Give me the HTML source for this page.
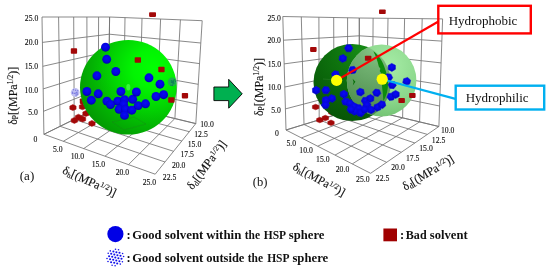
<!DOCTYPE html>
<html><head><meta charset="utf-8"><title>HSP spheres</title>
<style>html,body{margin:0;padding:0;background:#fff}svg{display:block}</style></head>
<body>
<svg width="550" height="270" viewBox="0 0 550 270">
<defs>
<radialGradient id="sa" cx="0.72" cy="0.32" r="0.92" fx="0.76" fy="0.3">
<stop offset="0" stop-color="#02ff02"/><stop offset="0.22" stop-color="#02f402"/><stop offset="0.45" stop-color="#02d402"/><stop offset="0.65" stop-color="#03b403"/><stop offset="0.85" stop-color="#039a03"/><stop offset="1" stop-color="#038403"/>
</radialGradient>
<radialGradient id="sd" cx="0.6" cy="0.08" r="0.95">
<stop offset="0" stop-color="#168c16"/><stop offset="0.3" stop-color="#0f760f"/><stop offset="0.65" stop-color="#0a640a"/><stop offset="1" stop-color="#075407"/>
</radialGradient>
<radialGradient id="sl" cx="0.6" cy="0.3" r="0.85">
<stop offset="0" stop-color="#a6eca6"/><stop offset="0.55" stop-color="#8cd88c"/><stop offset="1" stop-color="#66b866"/>
</radialGradient>
<radialGradient id="so" cx="0.45" cy="0.0" r="1.05">
<stop offset="0" stop-color="#8ccc8c"/><stop offset="0.3" stop-color="#72b272"/><stop offset="0.65" stop-color="#5c9c5c"/><stop offset="1" stop-color="#478447"/>
</radialGradient>
<radialGradient id="bd" cx="0.5" cy="0.4" r="0.65">
<stop offset="0" stop-color="#0a0af6"/><stop offset="0.6" stop-color="#0404dc"/><stop offset="1" stop-color="#00009c"/>
</radialGradient>
<pattern id="dots" width="2.4" height="2.4" patternUnits="userSpaceOnUse"><circle cx="0.8" cy="0.8" r="0.62" fill="#2020e8"/></pattern>
<pattern id="dots2" width="1.8" height="1.8" patternUnits="userSpaceOnUse"><circle cx="0.6" cy="0.6" r="0.5" fill="#5a5ad8"/></pattern>
<clipPath id="ca"><ellipse cx="128.3" cy="87.3" rx="48.3" ry="47.3"/></clipPath>
<clipPath id="cd"><ellipse cx="352.2" cy="82.5" rx="38.7" ry="38.6"/></clipPath>
</defs>
<style>
.g{stroke:#747474;stroke-width:0.85;fill:none}
text{font-family:"Liberation Serif",serif;fill:#111}
.t{font-size:7.7px;text-anchor:middle;stroke:#111;stroke-width:0.12}
.ax{font-size:12px;text-anchor:middle;stroke:#111;stroke-width:0.12}
.lg{font-size:12.45px;font-weight:bold}
.r{fill:#a30808}
</style>
<rect width="550" height="270" fill="#fff"/>
<line class="g" x1="42.0" y1="17.0" x2="109.6" y2="17.0"/>
<line class="g" x1="109.6" y1="17.0" x2="202.2" y2="20.7"/>
<line class="g" x1="42.4" y1="42.4" x2="109.4" y2="34.2"/>
<line class="g" x1="109.4" y1="34.2" x2="200.8" y2="43.0"/>
<line class="g" x1="42.8" y1="66.3" x2="109.2" y2="51.3"/>
<line class="g" x1="109.2" y1="51.3" x2="199.5" y2="63.6"/>
<line class="g" x1="43.2" y1="88.9" x2="108.9" y2="68.4"/>
<line class="g" x1="108.9" y1="68.4" x2="198.2" y2="84.3"/>
<line class="g" x1="43.5" y1="111.3" x2="108.7" y2="85.5"/>
<line class="g" x1="108.7" y1="85.5" x2="197.0" y2="104.0"/>
<line class="g" x1="43.9" y1="134.3" x2="108.5" y2="102.5"/>
<line class="g" x1="108.5" y1="102.5" x2="195.8" y2="123.6"/>
<line class="g" x1="42.0" y1="17.0" x2="43.9" y2="134.3"/>
<line class="g" x1="58.6" y1="17.0" x2="60.1" y2="126.3"/>
<line class="g" x1="73.7" y1="17.0" x2="74.2" y2="119.4"/>
<line class="g" x1="86.9" y1="17.0" x2="87.0" y2="113.1"/>
<line class="g" x1="98.6" y1="17.0" x2="98.3" y2="107.5"/>
<line class="g" x1="109.6" y1="17.0" x2="108.5" y2="102.5"/>
<line class="g" x1="109.6" y1="17.0" x2="108.5" y2="102.5"/>
<line class="g" x1="125.0" y1="17.6" x2="123.6" y2="106.1"/>
<line class="g" x1="142.0" y1="18.3" x2="139.8" y2="110.1"/>
<line class="g" x1="160.6" y1="19.0" x2="156.8" y2="114.2"/>
<line class="g" x1="180.4" y1="19.8" x2="174.9" y2="118.5"/>
<line class="g" x1="202.2" y1="20.7" x2="195.8" y2="123.6"/>
<line class="g" x1="43.9" y1="134.3" x2="108.5" y2="102.5"/>
<line class="g" x1="63.3" y1="141.3" x2="123.6" y2="106.1"/>
<line class="g" x1="83.7" y1="148.6" x2="139.8" y2="110.1"/>
<line class="g" x1="105.0" y1="156.2" x2="156.8" y2="114.2"/>
<line class="g" x1="128.5" y1="164.6" x2="174.9" y2="118.5"/>
<line class="g" x1="155.2" y1="174.2" x2="195.8" y2="123.6"/>
<line class="g" x1="43.9" y1="134.3" x2="155.2" y2="174.2"/>
<line class="g" x1="60.1" y1="126.3" x2="165.0" y2="162.0"/>
<line class="g" x1="74.2" y1="119.4" x2="173.6" y2="151.3"/>
<line class="g" x1="87.0" y1="113.1" x2="181.8" y2="141.0"/>
<line class="g" x1="98.3" y1="107.5" x2="189.3" y2="131.7"/>
<line class="g" x1="108.5" y1="102.5" x2="195.8" y2="123.6"/>
<line class="g" x1="282.8" y1="16.5" x2="359.3" y2="18.0"/>
<line class="g" x1="359.3" y1="18.0" x2="442.6" y2="18.9"/>
<line class="g" x1="283.5" y1="40.2" x2="359.3" y2="35.8"/>
<line class="g" x1="359.3" y1="35.8" x2="441.8" y2="41.1"/>
<line class="g" x1="284.1" y1="63.9" x2="359.3" y2="53.8"/>
<line class="g" x1="359.3" y1="53.8" x2="441.1" y2="62.9"/>
<line class="g" x1="284.8" y1="87.0" x2="359.3" y2="71.7"/>
<line class="g" x1="359.3" y1="71.7" x2="440.3" y2="84.5"/>
<line class="g" x1="285.4" y1="108.9" x2="359.3" y2="89.6"/>
<line class="g" x1="359.3" y1="89.6" x2="439.6" y2="106.0"/>
<line class="g" x1="286.0" y1="130.0" x2="359.3" y2="107.5"/>
<line class="g" x1="359.3" y1="107.5" x2="438.9" y2="126.5"/>
<line class="g" x1="282.8" y1="16.5" x2="286.0" y2="130.0"/>
<line class="g" x1="301.3" y1="16.9" x2="304.0" y2="124.5"/>
<line class="g" x1="318.9" y1="17.2" x2="319.2" y2="119.8"/>
<line class="g" x1="333.7" y1="17.5" x2="334.0" y2="115.3"/>
<line class="g" x1="347.6" y1="17.8" x2="347.5" y2="111.1"/>
<line class="g" x1="359.3" y1="18.0" x2="359.3" y2="107.5"/>
<line class="g" x1="359.3" y1="18.0" x2="359.3" y2="107.5"/>
<line class="g" x1="373.1" y1="18.1" x2="372.5" y2="110.7"/>
<line class="g" x1="388.0" y1="18.3" x2="386.5" y2="114.0"/>
<line class="g" x1="404.6" y1="18.5" x2="402.6" y2="117.8"/>
<line class="g" x1="422.2" y1="18.7" x2="419.6" y2="121.9"/>
<line class="g" x1="442.6" y1="18.9" x2="438.9" y2="126.5"/>
<line class="g" x1="286.0" y1="130.0" x2="359.3" y2="107.5"/>
<line class="g" x1="301.4" y1="137.9" x2="372.5" y2="110.7"/>
<line class="g" x1="317.7" y1="146.2" x2="386.5" y2="114.0"/>
<line class="g" x1="335.0" y1="155.1" x2="402.6" y2="117.8"/>
<line class="g" x1="352.3" y1="163.9" x2="419.6" y2="121.9"/>
<line class="g" x1="370.6" y1="173.3" x2="438.9" y2="126.5"/>
<line class="g" x1="286.0" y1="130.0" x2="370.6" y2="173.3"/>
<line class="g" x1="304.0" y1="124.5" x2="386.6" y2="162.3"/>
<line class="g" x1="319.2" y1="119.8" x2="401.3" y2="152.3"/>
<line class="g" x1="334.0" y1="115.3" x2="414.8" y2="143.0"/>
<line class="g" x1="347.5" y1="111.1" x2="427.3" y2="134.4"/>
<line class="g" x1="359.3" y1="107.5" x2="438.9" y2="126.5"/>
<rect class="r" x="149.1" y="12.3" width="6.9" height="4.6" rx="0.8"/>
<rect class="r" x="70.8" y="48.3" width="6.3" height="5.4" rx="0.8"/>
<rect class="r" x="181.8" y="93.0" width="6.3" height="5.4" rx="0.8"/>
<polygon class="r" points="69.8,106.1 72.9,104.6 76.1,106.1 76.1,109.2 72.9,110.6 69.8,109.2" stroke="#a30808" stroke-width="0.5" stroke-linejoin="round"/>
<polygon class="r" points="79.3,105.3 82.5,103.8 85.7,105.3 85.7,108.5 82.5,109.8 79.3,108.5" stroke="#a30808" stroke-width="0.5" stroke-linejoin="round"/>
<rect class="r" x="79.8" y="98.5" width="6.3" height="5.4" rx="0.8"/>
<polygon class="r" points="82.8,112.0 85.9,110.5 89.1,112.0 89.1,115.2 85.9,116.5 82.8,115.2" stroke="#a30808" stroke-width="0.5" stroke-linejoin="round"/>
<polygon class="r" points="87.2,110.5 90.4,109.0 93.6,110.5 93.6,113.7 90.4,115.0 87.2,113.7" stroke="#a30808" stroke-width="0.5" stroke-linejoin="round"/>
<polygon class="r" points="75.3,115.7 78.5,114.2 81.7,115.7 81.7,118.9 78.5,120.2 75.3,118.9" stroke="#a30808" stroke-width="0.5" stroke-linejoin="round"/>
<polygon class="r" points="71.2,118.9 74.4,117.4 77.6,118.9 77.6,122.1 74.4,123.4 71.2,122.1" stroke="#a30808" stroke-width="0.5" stroke-linejoin="round"/>
<polygon class="r" points="79.3,117.5 82.5,116.0 85.7,117.5 85.7,120.7 82.5,122.0 79.3,120.7" stroke="#a30808" stroke-width="0.5" stroke-linejoin="round"/>
<polygon class="r" points="88.8,121.9 91.9,120.4 95.1,121.9 95.1,125.1 91.9,126.4 88.8,125.1" stroke="#a30808" stroke-width="0.5" stroke-linejoin="round"/>
<g ><circle cx="75.2" cy="92.5" r="4.4" fill="#c0c0f2"/>
<circle cx="72.6" cy="92.2" r="0.7" fill="#7c7ce0"/>
<circle cx="76.4" cy="92.4" r="0.7" fill="#7c7ce0"/>
<circle cx="77.5" cy="93.9" r="0.7" fill="#7c7ce0"/>
<circle cx="75.2" cy="93.1" r="0.7" fill="#7c7ce0"/>
<circle cx="74.3" cy="93.4" r="0.7" fill="#7c7ce0"/>
<circle cx="72.6" cy="93.3" r="0.7" fill="#7c7ce0"/>
<circle cx="75.9" cy="93.9" r="0.7" fill="#7c7ce0"/>
<circle cx="77.1" cy="94.5" r="0.7" fill="#7c7ce0"/>
<circle cx="73.5" cy="89.8" r="0.7" fill="#7c7ce0"/>
<circle cx="76.7" cy="92.8" r="0.7" fill="#7c7ce0"/>
<circle cx="77.1" cy="92.1" r="0.7" fill="#7c7ce0"/>
<circle cx="76.1" cy="95.7" r="0.7" fill="#7c7ce0"/>
<circle cx="75.6" cy="90.2" r="0.7" fill="#7c7ce0"/>
<circle cx="77.7" cy="90.6" r="0.7" fill="#7c7ce0"/>
</g>
<g ><circle cx="172.2" cy="81.9" r="4.4" fill="#c8c0f4"/>
<circle cx="173.2" cy="80.8" r="0.7" fill="#8c84e0"/>
<circle cx="171.0" cy="85.3" r="0.7" fill="#8c84e0"/>
<circle cx="174.3" cy="79.8" r="0.7" fill="#8c84e0"/>
<circle cx="175.7" cy="81.4" r="0.7" fill="#8c84e0"/>
<circle cx="171.4" cy="82.3" r="0.7" fill="#8c84e0"/>
<circle cx="173.3" cy="81.7" r="0.7" fill="#8c84e0"/>
<circle cx="173.8" cy="83.2" r="0.7" fill="#8c84e0"/>
<circle cx="172.2" cy="81.9" r="0.7" fill="#8c84e0"/>
<circle cx="172.8" cy="84.0" r="0.7" fill="#8c84e0"/>
<circle cx="173.3" cy="82.2" r="0.7" fill="#8c84e0"/>
<circle cx="172.7" cy="82.3" r="0.7" fill="#8c84e0"/>
<circle cx="172.3" cy="85.5" r="0.7" fill="#8c84e0"/>
<circle cx="172.2" cy="82.0" r="0.7" fill="#8c84e0"/>
<circle cx="171.4" cy="80.8" r="0.7" fill="#8c84e0"/>
</g>
<ellipse cx="128.3" cy="87.3" rx="48.3" ry="47.3" fill="url(#sa)"/>
<g clip-path="url(#ca)" opacity="0.35"><path d="M112 122 L134 117 L146 124 L124 130Z" fill="none" stroke="#2a6a2a" stroke-width="0.7"/></g>
<ellipse cx="128.3" cy="87.3" rx="2" ry="3.2" fill="#38f838"/>
<g clip-path="url(#ca)"><circle cx="172.2" cy="81.9" r="4.4" fill="#1fae4e"/>
<circle cx="173.2" cy="80.8" r="0.7" fill="#12805a"/>
<circle cx="171.0" cy="85.3" r="0.7" fill="#12805a"/>
<circle cx="174.3" cy="79.8" r="0.7" fill="#12805a"/>
<circle cx="175.7" cy="81.4" r="0.7" fill="#12805a"/>
<circle cx="171.4" cy="82.3" r="0.7" fill="#12805a"/>
<circle cx="173.3" cy="81.7" r="0.7" fill="#12805a"/>
<circle cx="173.8" cy="83.2" r="0.7" fill="#12805a"/>
<circle cx="172.2" cy="81.9" r="0.7" fill="#12805a"/>
<circle cx="172.8" cy="84.0" r="0.7" fill="#12805a"/>
<circle cx="173.3" cy="82.2" r="0.7" fill="#12805a"/>
<circle cx="172.7" cy="82.3" r="0.7" fill="#12805a"/>
<circle cx="172.3" cy="85.5" r="0.7" fill="#12805a"/>
<circle cx="172.2" cy="82.0" r="0.7" fill="#12805a"/>
<circle cx="171.4" cy="80.8" r="0.7" fill="#12805a"/>
</g>
<rect class="r" x="134.7" y="57.3" width="6.3" height="5.4" rx="0.8"/>
<rect class="r" x="158.3" y="66.8" width="6.3" height="5.4" rx="0.8"/>
<rect class="r" x="168.2" y="97.3" width="6.3" height="5.4" rx="0.8"/>
<circle cx="105.5" cy="47.2" r="4.45" fill="url(#bd)"/>
<circle cx="106.7" cy="59.3" r="4.45" fill="url(#bd)"/>
<circle cx="96.9" cy="75.8" r="4.45" fill="url(#bd)"/>
<circle cx="115.8" cy="71.5" r="4.45" fill="url(#bd)"/>
<circle cx="149.0" cy="77.8" r="4.45" fill="url(#bd)"/>
<circle cx="160.0" cy="84.2" r="4.45" fill="url(#bd)"/>
<circle cx="86.9" cy="91.5" r="4.45" fill="url(#bd)"/>
<circle cx="91.3" cy="100.2" r="4.45" fill="url(#bd)"/>
<circle cx="98.2" cy="93.8" r="4.45" fill="url(#bd)"/>
<circle cx="106.9" cy="101.1" r="4.45" fill="url(#bd)"/>
<circle cx="110.5" cy="104.5" r="4.45" fill="url(#bd)"/>
<circle cx="120.9" cy="91.5" r="4.45" fill="url(#bd)"/>
<circle cx="117.8" cy="101.1" r="4.45" fill="url(#bd)"/>
<circle cx="124.5" cy="99.6" r="4.45" fill="url(#bd)"/>
<circle cx="132.7" cy="99.3" r="4.45" fill="url(#bd)"/>
<circle cx="136.4" cy="92.0" r="4.45" fill="url(#bd)"/>
<circle cx="123.6" cy="104.7" r="4.45" fill="url(#bd)"/>
<circle cx="119.1" cy="109.3" r="4.45" fill="url(#bd)"/>
<circle cx="125.5" cy="109.3" r="4.45" fill="url(#bd)"/>
<circle cx="124.5" cy="115.4" r="4.45" fill="url(#bd)"/>
<circle cx="131.8" cy="110.2" r="4.45" fill="url(#bd)"/>
<circle cx="138.2" cy="105.6" r="4.45" fill="url(#bd)"/>
<circle cx="145.5" cy="103.8" r="4.45" fill="url(#bd)"/>
<circle cx="156.0" cy="96.5" r="4.45" fill="url(#bd)"/>
<circle cx="163.6" cy="94.7" r="4.45" fill="url(#bd)"/>
<rect class="r" x="379.0" y="9.5" width="6.7" height="4.6" rx="0.8"/>
<rect class="r" x="310.1" y="47.0" width="6.5" height="4.9" rx="0.8"/>
<polygon class="r" points="312.4,105.6 315.7,104.2 318.9,105.6 318.9,108.5 315.7,109.8 312.4,108.5" stroke="#a30808" stroke-width="0.5" stroke-linejoin="round"/>
<polygon class="r" points="316.6,118.6 319.8,117.2 323.1,118.6 323.1,121.5 319.8,122.8 316.6,121.5" stroke="#a30808" stroke-width="0.5" stroke-linejoin="round"/>
<polygon class="r" points="322.1,116.6 325.3,115.2 328.6,116.6 328.6,119.5 325.3,120.8 322.1,119.5" stroke="#a30808" stroke-width="0.5" stroke-linejoin="round"/>
<polygon class="r" points="327.8,121.4 331.0,120.0 334.2,121.4 334.2,124.3 331.0,125.5 327.8,124.3" stroke="#a30808" stroke-width="0.5" stroke-linejoin="round"/>
<polygon class="r" points="328.6,110.8 331.9,109.5 335.1,110.8 335.1,113.7 331.9,115.0 328.6,113.7" stroke="#a30808" stroke-width="0.5" stroke-linejoin="round"/>
<ellipse cx="352.2" cy="82.5" rx="38.7" ry="38.6" fill="url(#sd)"/>
<path d="M323 79 L334 79.8" stroke="#2a7a2a" stroke-width="0.6"/>
<ellipse cx="381.6" cy="80.6" rx="34.8" ry="36" fill="url(#sl)"/>
<ellipse cx="381.6" cy="80.6" rx="34.8" ry="36" fill="url(#so)" clip-path="url(#cd)"/>
<path d="M352.6 78.7 L355.4 81.8 L352.8 85.4 L353.6 82 Z" fill="#0a6e0a"/>
<path d="M373.3 51.2 C379 55 383 62 384.6 67.5 C386.6 73 388.3 79 388.1 84 C387.9 90 386.5 96 383.3 101.2 C383.2 96 382.7 92 382.3 89 C381.9 84 381.6 80 380.6 76 L381.4 73.6 L379.7 71 L380.4 68.8 L378.8 66.6 C377.6 61 376 56 373.3 51.2Z" fill="#0c8c0c"/>
<rect class="r" x="364.9" y="55.8" width="6.5" height="4.9" rx="0.8"/>
<rect class="r" x="398.4" y="98.1" width="6.5" height="4.9" rx="0.8"/>
<rect class="r" x="409.1" y="93.0" width="6.5" height="4.9" rx="0.8"/>
<polygon points="352.8,48.3 350.7,51.8 346.5,51.8 344.5,48.3 346.5,44.8 350.7,44.8" fill="url(#bd)" stroke="#0a0ae0" stroke-width="0.6" stroke-linejoin="round"/>
<polygon points="346.1,60.8 342.3,62.4 339.0,60.0 339.5,56.0 343.3,54.4 346.6,56.8" fill="url(#bd)" stroke="#0a0ae0" stroke-width="0.6" stroke-linejoin="round"/>
<polygon points="339.5,75.5 336.6,78.3 332.6,77.4 331.5,73.5 334.4,70.7 338.4,71.6" fill="url(#bd)" stroke="#0a0ae0" stroke-width="0.6" stroke-linejoin="round"/>
<polygon points="355.3,73.1 351.2,73.7 348.6,70.6 350.1,66.9 354.2,66.3 356.8,69.4" fill="url(#bd)" stroke="#0a0ae0" stroke-width="0.6" stroke-linejoin="round"/>
<polygon points="319.8,92.2 316.2,94.3 312.6,92.4 312.4,88.4 316.0,86.3 319.6,88.2" fill="url(#bd)" stroke="#0a0ae0" stroke-width="0.6" stroke-linejoin="round"/>
<polygon points="330.0,90.5 327.7,93.8 323.5,93.5 321.8,89.9 324.1,86.6 328.3,86.9" fill="url(#bd)" stroke="#0a0ae0" stroke-width="0.6" stroke-linejoin="round"/>
<polygon points="329.0,102.9 325.0,104.1 322.0,101.4 322.8,97.5 326.8,96.3 329.8,99.0" fill="url(#bd)" stroke="#0a0ae0" stroke-width="0.6" stroke-linejoin="round"/>
<polygon points="335.8,99.8 332.7,102.4 328.8,101.1 328.0,97.2 331.1,94.6 335.0,95.9" fill="url(#bd)" stroke="#0a0ae0" stroke-width="0.6" stroke-linejoin="round"/>
<polygon points="327.7,108.3 323.6,108.6 321.3,105.3 323.1,101.7 327.2,101.4 329.5,104.7" fill="url(#bd)" stroke="#0a0ae0" stroke-width="0.6" stroke-linejoin="round"/>
<polygon points="347.3,96.4 343.6,98.2 340.1,96.0 340.3,92.0 344.0,90.2 347.5,92.4" fill="url(#bd)" stroke="#0a0ae0" stroke-width="0.6" stroke-linejoin="round"/>
<polygon points="349.8,102.3 347.1,105.3 343.0,104.7 341.6,100.9 344.3,97.9 348.4,98.5" fill="url(#bd)" stroke="#0a0ae0" stroke-width="0.6" stroke-linejoin="round"/>
<polygon points="352.6,106.3 348.6,107.2 345.8,104.3 347.0,100.5 351.0,99.6 353.8,102.5" fill="url(#bd)" stroke="#0a0ae0" stroke-width="0.6" stroke-linejoin="round"/>
<polygon points="357.7,108.2 354.3,110.6 350.5,108.9 350.1,105.0 353.5,102.6 357.3,104.3" fill="url(#bd)" stroke="#0a0ae0" stroke-width="0.6" stroke-linejoin="round"/>
<polygon points="362.7,108.3 360.6,111.7 356.5,111.6 354.5,108.1 356.6,104.7 360.7,104.8" fill="url(#bd)" stroke="#0a0ae0" stroke-width="0.6" stroke-linejoin="round"/>
<polygon points="358.0,113.9 354.1,115.3 350.9,112.9 351.4,108.9 355.3,107.5 358.5,109.9" fill="url(#bd)" stroke="#0a0ae0" stroke-width="0.6" stroke-linejoin="round"/>
<polygon points="364.6,114.0 361.7,116.8 357.7,115.8 356.6,112.0 359.5,109.2 363.5,110.2" fill="url(#bd)" stroke="#0a0ae0" stroke-width="0.6" stroke-linejoin="round"/>
<polygon points="353.6,112.6 349.4,113.2 346.9,110.1 348.4,106.4 352.6,105.8 355.1,108.9" fill="url(#bd)" stroke="#0a0ae0" stroke-width="0.6" stroke-linejoin="round"/>
<polygon points="395.4,69.3 391.9,71.4 388.2,69.5 388.2,65.5 391.7,63.4 395.4,65.3" fill="url(#bd)" stroke="#0a0ae0" stroke-width="0.6" stroke-linejoin="round"/>
<polygon points="392.7,77.8 390.3,81.0 386.2,80.6 384.5,77.0 386.9,73.8 391.0,74.2" fill="url(#bd)" stroke="#0a0ae0" stroke-width="0.6" stroke-linejoin="round"/>
<polygon points="409.7,84.1 405.8,85.3 402.7,82.6 403.7,78.7 407.6,77.5 410.7,80.2" fill="url(#bd)" stroke="#0a0ae0" stroke-width="0.6" stroke-linejoin="round"/>
<polygon points="364.3,93.5 361.1,96.0 357.2,94.7 356.5,90.7 359.7,88.2 363.6,89.5" fill="url(#bd)" stroke="#0a0ae0" stroke-width="0.6" stroke-linejoin="round"/>
<polygon points="367.6,104.1 363.4,104.3 361.2,101.0 363.0,97.5 367.2,97.3 369.4,100.6" fill="url(#bd)" stroke="#0a0ae0" stroke-width="0.6" stroke-linejoin="round"/>
<polygon points="373.7,100.7 370.0,102.5 366.6,100.2 366.9,96.3 370.6,94.5 374.0,96.8" fill="url(#bd)" stroke="#0a0ae0" stroke-width="0.6" stroke-linejoin="round"/>
<polygon points="380.8,93.6 378.1,96.6 374.0,95.8 372.6,92.0 375.3,89.0 379.4,89.8" fill="url(#bd)" stroke="#0a0ae0" stroke-width="0.6" stroke-linejoin="round"/>
<polygon points="369.7,108.0 365.6,108.8 362.8,105.8 364.1,102.0 368.2,101.2 371.0,104.2" fill="url(#bd)" stroke="#0a0ae0" stroke-width="0.6" stroke-linejoin="round"/>
<polygon points="374.8,111.5 371.4,113.8 367.6,112.1 367.2,108.1 370.6,105.8 374.4,107.5" fill="url(#bd)" stroke="#0a0ae0" stroke-width="0.6" stroke-linejoin="round"/>
<polygon points="368.6,109.6 366.4,113.0 362.3,112.9 360.4,109.4 362.6,106.0 366.7,106.1" fill="url(#bd)" stroke="#0a0ae0" stroke-width="0.6" stroke-linejoin="round"/>
<polygon points="380.7,109.8 376.9,111.2 373.6,108.7 374.3,104.8 378.1,103.4 381.4,105.9" fill="url(#bd)" stroke="#0a0ae0" stroke-width="0.6" stroke-linejoin="round"/>
<polygon points="385.8,105.7 382.8,108.5 378.8,107.4 377.8,103.5 380.8,100.7 384.8,101.8" fill="url(#bd)" stroke="#0a0ae0" stroke-width="0.6" stroke-linejoin="round"/>
<polygon points="393.5,99.9 389.4,100.4 386.9,97.2 388.5,93.5 392.6,93.0 395.1,96.2" fill="url(#bd)" stroke="#0a0ae0" stroke-width="0.6" stroke-linejoin="round"/>
<polygon points="399.2,96.4 395.6,98.4 392.0,96.4 392.0,92.4 395.6,90.4 399.2,92.4" fill="url(#bd)" stroke="#0a0ae0" stroke-width="0.6" stroke-linejoin="round"/>
<polygon points="396.3,85.5 393.8,88.7 389.7,88.2 388.1,84.5 390.6,81.3 394.7,81.8" fill="url(#bd)" stroke="#0a0ae0" stroke-width="0.6" stroke-linejoin="round"/>
<line x1="336.6" y1="80.4" x2="438" y2="21.8" stroke="#ff0000" stroke-width="2.2"/>
<line x1="382.2" y1="79.2" x2="455.5" y2="98.9" stroke="#00b0f0" stroke-width="2.2"/>
<circle cx="336.6" cy="80.4" r="5.6" fill="#ffff00"/>
<circle cx="382.2" cy="79.2" r="5.6" fill="#ffff00"/>
<rect x="438.3" y="5.8" width="92.5" height="27.6" fill="none" stroke="#ff0000" stroke-width="2.4"/>
<rect x="455.7" y="85.7" width="88.5" height="23.8" fill="none" stroke="#00b0f0" stroke-width="2.4"/>
<text x="448.7" y="24.6" style="font-size:13px">Hydrophobic</text>
<text x="465.7" y="101.5" style="font-size:13px">Hydrophilic</text>
<path d="M213.9 87 H228.7 V79.3 L242.2 93.8 L228.7 108.2 V100.6 H213.9Z" fill="#00b050" stroke="#000" stroke-width="0.9" stroke-linejoin="miter"/>
<text class="t" x="31.6" y="21.2">25.0</text>
<text class="t" x="31.6" y="45.3">20.0</text>
<text class="t" x="31.4" y="68.9">15.0</text>
<text class="t" x="31.3" y="92.5">10.0</text>
<text class="t" x="33" y="115.2">5.0</text>
<text class="t" x="35.5" y="142.1">0</text>
<text class="t" x="57.8" y="151.7">5.0</text>
<text class="t" x="77.4" y="158.8">10.0</text>
<text class="t" x="98.4" y="166.6">15.0</text>
<text class="t" x="122.4" y="175.3">20.0</text>
<text class="t" x="149.4" y="185.4">25.0</text>
<text class="t" x="207" y="126.7">10.0</text>
<text class="t" x="201" y="136.6">12.5</text>
<text class="t" x="194.5" y="146.9">15.0</text>
<text class="t" x="187.2" y="157.3">17.5</text>
<text class="t" x="178.7" y="167.7">20.0</text>
<text class="t" x="169.6" y="179.9">22.5</text>
<text class="t" x="274.2" y="20.7">25.0</text>
<text class="t" x="274.2" y="43.2">20.0</text>
<text class="t" x="274.4" y="66.6">15.0</text>
<text class="t" x="274.4" y="89.7">10.0</text>
<text class="t" x="276" y="112.9">5.0</text>
<text class="t" x="277" y="135.7">0</text>
<text class="t" x="291.3" y="145.8">5.0</text>
<text class="t" x="306.1" y="152.7">10.0</text>
<text class="t" x="322.8" y="162.1">15.0</text>
<text class="t" x="342.5" y="171.7">20.0</text>
<text class="t" x="362.8" y="182.1">25.0</text>
<text class="t" x="447.7" y="132.5">10.0</text>
<text class="t" x="438.6" y="142.9">12.5</text>
<text class="t" x="426" y="150.9">15.0</text>
<text class="t" x="412.7" y="160.5">17.5</text>
<text class="t" x="398" y="169.7">20.0</text>
<text class="t" x="382.6" y="180.6">22.5</text>
<text class="ax" transform="translate(13.7,95.8) rotate(-90)" y="3.2">δ<tspan font-size="7.5" dy="1.5">P</tspan><tspan dy="-1.5">[(MPa</tspan><tspan font-size="7.5" dy="-3.6">1/2</tspan><tspan dy="3.6">)]</tspan></text>
<text class="ax" transform="translate(259.6,87) rotate(-90)" y="3.2">δ<tspan font-size="7.5" dy="1.5">P</tspan><tspan dy="-1.5">[(MPa</tspan><tspan font-size="7.5" dy="-3.6">1/2</tspan><tspan dy="3.6">)]</tspan></text>
<text class="ax" transform="translate(89.3,182) rotate(24.5)" y="3.2">δ<tspan font-size="7.5" dy="1.5">h</tspan><tspan dy="-1.5">[(MPa</tspan><tspan font-size="7.5" dy="-3.6">1/2</tspan><tspan dy="3.6">)]</tspan></text>
<text class="ax" transform="translate(207.2,165.2) rotate(-53.4)" y="3.2">δ<tspan font-size="7.5" dy="1.5">d</tspan><tspan dy="-1.5">[(MPa</tspan><tspan font-size="7.5" dy="-3.6">1/2</tspan><tspan dy="3.6">)]</tspan></text>
<text class="ax" transform="translate(318.8,180) rotate(28.7)" y="3.2">δ<tspan font-size="7.5" dy="1.5">h</tspan><tspan dy="-1.5">[(MPa</tspan><tspan font-size="7.5" dy="-3.6">1/2</tspan><tspan dy="3.6">)]</tspan></text>
<text class="ax" transform="translate(428.4,173.2) rotate(-30.8)" y="3.2">δ<tspan font-size="7.5" dy="1.5">d</tspan><tspan dy="-1.5">[(MPa</tspan><tspan font-size="7.5" dy="-3.6">1/2</tspan><tspan dy="3.6">)]</tspan></text>
<text x="27" y="180.4" style="font-size:13px;text-anchor:middle">(a)</text>
<text x="260.1" y="186.4" style="font-size:12.6px;text-anchor:middle">(b)</text>
<circle cx="115.4" cy="234.1" r="8.1" fill="#0000e6"/>
<g fill="#1212ea"><circle cx="108.2" cy="253.2" r="0.8"/><circle cx="107.0" cy="258.5" r="0.8"/><circle cx="110.3" cy="250.9" r="0.8"/><circle cx="111.2" cy="253.8" r="1.05"/><circle cx="109.1" cy="256.2" r="1.05"/><circle cx="110.1" cy="259.2" r="1.05"/><circle cx="108.0" cy="261.5" r="0.8"/><circle cx="115.5" cy="249.2" r="0.8"/><circle cx="113.4" cy="251.5" r="1.05"/><circle cx="114.3" cy="254.5" r="1.05"/><circle cx="112.2" cy="256.8" r="1.05"/><circle cx="113.2" cy="259.8" r="1.05"/><circle cx="111.1" cy="262.2" r="1.05"/><circle cx="112.1" cy="265.2" r="0.8"/><circle cx="118.5" cy="249.8" r="0.8"/><circle cx="116.4" cy="252.2" r="1.05"/><circle cx="117.4" cy="255.2" r="1.05"/><circle cx="115.3" cy="257.5" r="1.05"/><circle cx="116.3" cy="260.5" r="1.05"/><circle cx="114.2" cy="262.8" r="1.05"/><circle cx="115.1" cy="265.8" r="0.8"/><circle cx="119.5" cy="252.8" r="1.05"/><circle cx="120.5" cy="255.8" r="1.05"/><circle cx="118.4" cy="258.2" r="1.05"/><circle cx="119.4" cy="261.2" r="1.05"/><circle cx="117.2" cy="263.5" r="1.05"/><circle cx="122.6" cy="253.5" r="0.8"/><circle cx="123.6" cy="256.5" r="0.8"/><circle cx="121.5" cy="258.8" r="1.05"/><circle cx="122.4" cy="261.8" r="0.8"/><circle cx="120.3" cy="264.1" r="0.8"/></g>
<text class="lg" y="239.2"><tspan x="126.6" textLength="4.2" lengthAdjust="spacingAndGlyphs">:</tspan> <tspan x="132.2" textLength="29.3" lengthAdjust="spacingAndGlyphs">Good</tspan> <tspan x="164.8" textLength="38.6" lengthAdjust="spacingAndGlyphs">solvent</tspan> <tspan x="206.2" textLength="35.2" lengthAdjust="spacingAndGlyphs">within</tspan> <tspan x="244.8" textLength="15.3" lengthAdjust="spacingAndGlyphs">the</tspan> <tspan x="263.8" textLength="21.7" lengthAdjust="spacingAndGlyphs">HSP</tspan> <tspan x="288.8" textLength="35.6" lengthAdjust="spacingAndGlyphs">sphere</tspan></text>
<text class="lg" y="262.4"><tspan x="126.6" textLength="4.2" lengthAdjust="spacingAndGlyphs">:</tspan> <tspan x="132.2" textLength="29.3" lengthAdjust="spacingAndGlyphs">Good</tspan> <tspan x="164.8" textLength="38.6" lengthAdjust="spacingAndGlyphs">solvent</tspan> <tspan x="206.2" textLength="38.2" lengthAdjust="spacingAndGlyphs">outside</tspan> <tspan x="247.8" textLength="15.3" lengthAdjust="spacingAndGlyphs">the</tspan> <tspan x="267.2" textLength="21.7" lengthAdjust="spacingAndGlyphs">HSP</tspan> <tspan x="292.4" textLength="35.8" lengthAdjust="spacingAndGlyphs">sphere</tspan></text>
<rect x="383.4" y="228.5" width="13.6" height="12.8" fill="#a00000"/>
<text class="lg" y="239.2"><tspan x="400.1" textLength="4.2" lengthAdjust="spacingAndGlyphs">:</tspan> <tspan x="405.8" textLength="20.8" lengthAdjust="spacingAndGlyphs">Bad</tspan> <tspan x="429.8" textLength="37.8" lengthAdjust="spacingAndGlyphs">solvent</tspan></text>
</svg>
</body></html>
